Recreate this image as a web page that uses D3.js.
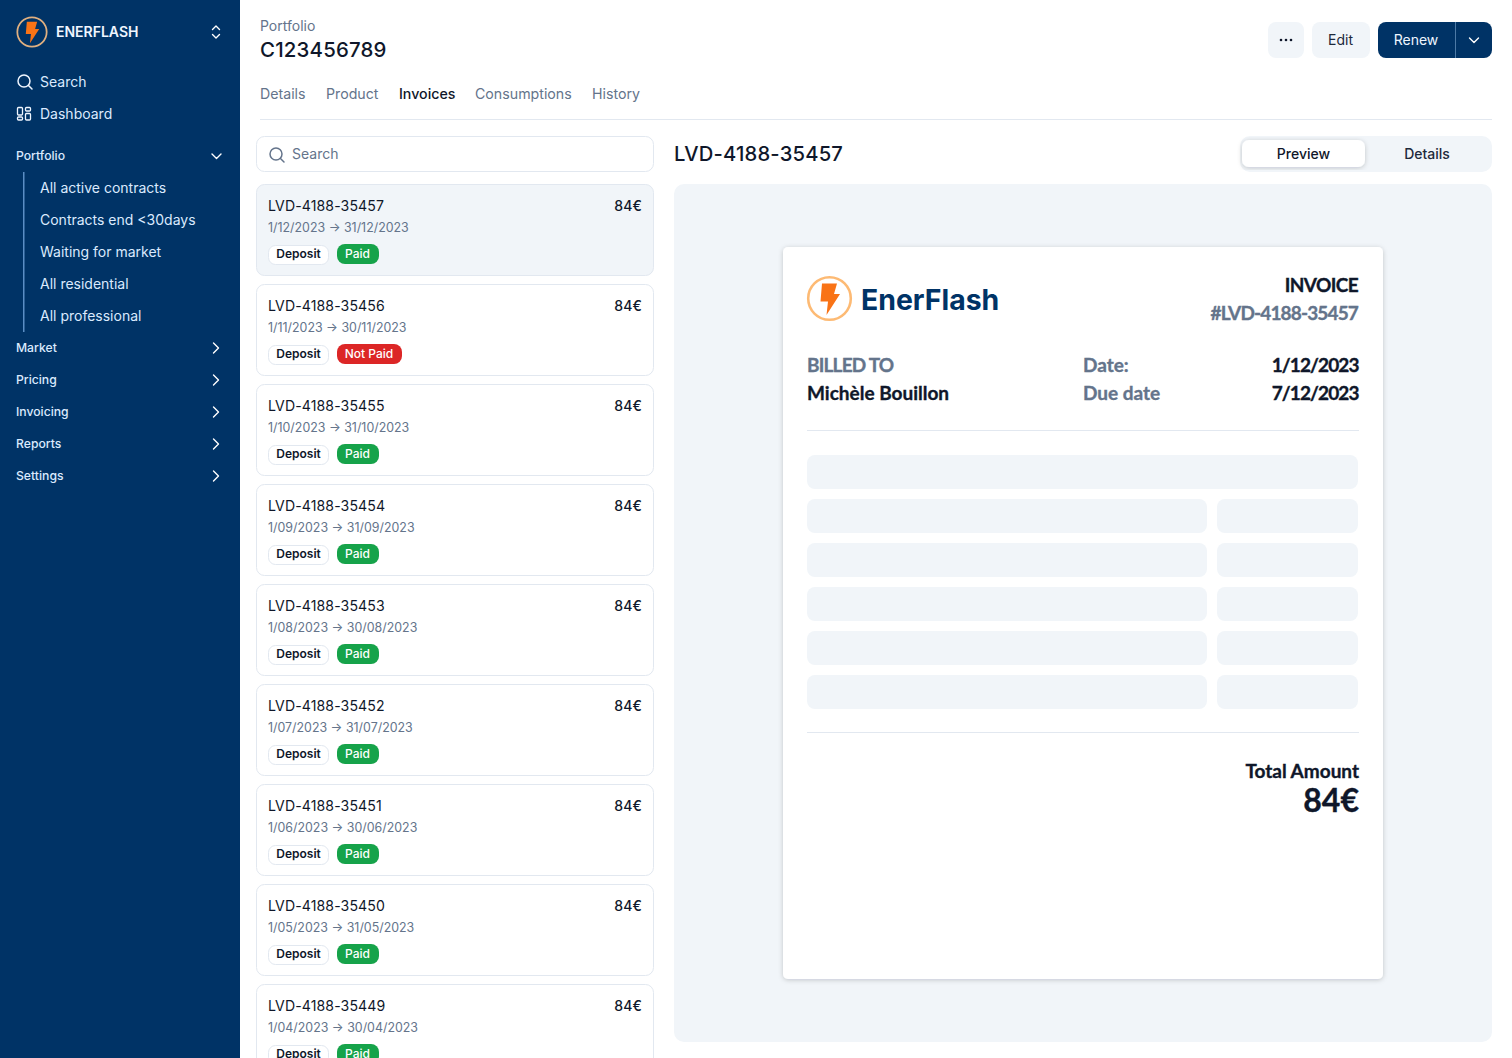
<!DOCTYPE html>
<html>
<head>
<meta charset="utf-8">
<script src="https://cdn.jsdelivr.net/npm/d3@7"></script>
<style>
html, body { margin: 0; padding: 0; background: #fff; overflow: hidden; }
text { font-family: Inter, "Noto Sans", sans-serif; }
text.doc { font-family: Lato, Inter, sans-serif; }
</style>
</head>
<body>
<div id="chart"></div>
<script>
// values
var topNav = ['Search', 'Dashboard'];
var portfolioItems = ['All active contracts', 'Contracts end <30days', 'Waiting for market', 'All residential', 'All professional'];
var closedSections = ['Market', 'Pricing', 'Invoicing', 'Reports', 'Settings'];
var tabs = ['Details', 'Product', 'Invoices', 'Consumptions', 'History'];
var tabX = [260, 326, 399, 475, 592];
var invoiceIds = ['LVD-4188-35457', 'LVD-4188-35456', 'LVD-4188-35455', 'LVD-4188-35454', 'LVD-4188-35453', 'LVD-4188-35452', 'LVD-4188-35451', 'LVD-4188-35450', 'LVD-4188-35449'];
var invoicePeriods = ['1/12/2023 → 31/12/2023', '1/11/2023 → 30/11/2023', '1/10/2023 → 31/10/2023', '1/09/2023 → 31/09/2023', '1/08/2023 → 30/08/2023', '1/07/2023 → 31/07/2023', '1/06/2023 → 30/06/2023', '1/05/2023 → 31/05/2023', '1/04/2023 → 30/04/2023'];
var invoiceAmounts = [84, 84, 84, 84, 84, 84, 84, 84, 84];
var invoiceStatus = ['Paid', 'Not Paid', 'Paid', 'Paid', 'Paid', 'Paid', 'Paid', 'Paid', 'Paid'];
var skeletonRows = [0, 1, 2, 3, 4];

var navy = '#003366', ink = '#0f172a', grey = '#64748b', pale = '#f1f5f9', line = '#e2e8f0', orange = '#f97316';

var svg = d3.select('#chart').append('svg')
    .attr('width', 1512)
    .attr('height', 1058)
    .style('display', 'block');

var defs = svg.append('defs');
var shadow = defs.append('filter').attr('id', 'soft').attr('x', '-10%').attr('y', '-10%').attr('width', '120%').attr('height', '120%');
shadow.append('feDropShadow').attr('dx', 0).attr('dy', 1).attr('stdDeviation', 2.5).attr('flood-color', '#0f172a').attr('flood-opacity', 0.2);

function label(g, x, y, str, size, weight, color, anchor, spacing) {
    return g.append('text')
        .attr('x', x).attr('y', y)
        .attr('font-size', size)
        .attr('font-weight', weight || 400)
        .attr('fill', color || ink)
        .attr('text-anchor', anchor || 'start')
        .attr('letter-spacing', spacing || 0)
        .attr('dominant-baseline', 'central')
        .text(str);
}

// the invoice sheet uses a narrower, rounder face than the app around it
function docLabel(g, x, y, str, size, color, anchor, spacing) {
    return label(g, x, y, str, size, 700, color, anchor, spacing)
        .attr('class', 'doc')
        .attr('stroke', color)
        .attr('stroke-width', 0.35);
}

function box(g, x, y, w, h, r, fill, stroke) {
    return g.append('rect')
        .attr('x', x).attr('y', y)
        .attr('width', w).attr('height', h)
        .attr('rx', r)
        .attr('fill', fill)
        .attr('stroke', stroke || 'none');
}

function stroked(g, d, color, width) {
    return g.append('path').attr('d', d).attr('fill', 'none')
        .attr('stroke', color).attr('stroke-width', width || 1.5)
        .attr('stroke-linecap', 'round').attr('stroke-linejoin', 'round');
}

function searchIcon(g, x, y, color) {
    var i = g.append('g').attr('transform', 'translate(' + x + ',' + y + ')');
    i.append('circle').attr('r', 6).attr('cx', -1).attr('cy', -1).attr('fill', 'none').attr('stroke', color).attr('stroke-width', 1.5);
    stroked(i, 'M3.5,3.5L7,7', color);
}

function logo(g, x, y, r, ring) {
    var k = r / 15;
    var i = g.append('g').attr('transform', 'translate(' + x + ',' + y + ') scale(' + k + ')');
    i.append('circle').attr('r', 14.2).attr('fill', 'none').attr('stroke', ring).attr('stroke-width', 1.7);
    i.append('path').attr('d', 'M-5,-10L5,-10L3,-3L7,-3L-2,11L-1,2L-6,2Z').attr('fill', orange);
}

// sidebar
var side = svg.append('g');
box(side, 0, 0, 240, 1058, 0, navy);
logo(side, 32, 32, 15.5, '#e0b080');
label(side, 56, 31.5, 'ENERFLASH', 14, 600, '#eff6ff');
stroked(side, 'M212.5,29.5L216,26L219.500,29.500M212.5,34.5L216,38L219.500,34.500', '#fff', 1.4);

var navY = d3.scaleLinear().domain([0, 1]).range([81.5, 113.5]);
side.selectAll('.top').data(topNav).enter().append('text')
    .attr('class', 'top')
    .attr('x', 40).attr('y', function(d, i) { return navY(i); })
    .attr('dominant-baseline', 'central')
    .attr('font-size', 14).attr('fill', '#dbeafe')
    .text(function(d) { return d; });
searchIcon(side, 25, 82, '#eff6ff');
[[17.5, 107.5, 5, 7.5], [25.5, 107.5, 5, 3.5], [17.5, 117, 5, 3], [25.5, 113.5, 5, 6.5]].forEach(function(r) {
    box(side, r[0], r[1], r[2], r[3], 1, 'none', '#eff6ff').attr('stroke-width', 1.3);
});

label(side, 16, 155.5, 'Portfolio', 12.2, 500, '#dbeafe');
stroked(side, 'M212,154L216.500,158.500L221,154', '#fff', 1.4);
box(side, 23, 172, 1.5, 160, 0, '#5b8ec4');

var subY = d3.scaleLinear().domain([0, 4]).range([187.5, 315.5]);
side.selectAll('.sub').data(portfolioItems).enter().append('text')
    .attr('class', 'sub')
    .attr('x', 40).attr('y', function(d, i) { return subY(i); })
    .attr('dominant-baseline', 'central')
    .attr('font-size', 14).attr('fill', '#dbeafe')
    .text(function(d) { return d; });

var secY = d3.scaleLinear().domain([0, 4]).range([347.5, 475.5]);
closedSections.forEach(function(s, i) {
    label(side, 16, secY(i), s, 12.2, 500, '#dbeafe');
    stroked(side, 'M213.500,' + (secY(i) - 4.5) + 'L218.500,' + (secY(i) + 0.5) + 'L213.500,' + (secY(i) + 5.5), '#fff', 1.4);
});

// header
var head = svg.append('g');
label(head, 260, 25.5, 'Portfolio', 14, 400, grey);
label(head, 260, 49.5, 'C123456789', 20.4, 500, ink, 'start', 0.2);
tabs.forEach(function(t, i) {
    label(head, tabX[i], 93.5, t, 14.2, t === 'Invoices' ? 500 : 400, t === 'Invoices' ? ink : grey);
});
box(head, 260, 119, 1232, 1, 0, line);

box(head, 1268, 22, 36, 36, 8, pale);
[1281, 1286, 1291].forEach(function(x) {
    head.append('circle').attr('cx', x).attr('cy', 40).attr('r', 1.3).attr('fill', ink);
});
box(head, 1312, 22, 58, 36, 8, pale);
label(head, 1340.500, 39.5, 'Edit', 14, 400, '#1e293b', 'middle');
box(head, 1378, 22, 114, 36, 8, navy);
label(head, 1416, 39.5, 'Renew', 14, 400, '#eff6ff', 'middle');
box(head, 1455, 22, 1, 36, 0, '#4d7aa6');
stroked(head, 'M1469.500,38L1474,42.500L1478.500,38', '#fff', 1.4);

// search box
var list = svg.append('g');
box(list, 256.500, 136.500, 397, 35, 8, '#fff', line);
searchIcon(list, 277, 155, grey);
label(list, 292, 153.5, 'Search', 14, 400, grey);

// invoice cards
var cardY = d3.scaleLinear().domain([0, 8]).range([184, 984]);
var cards = list.selectAll('.card').data(invoiceIds).enter().append('g')
    .attr('class', 'card')
    .attr('transform', function(d, i) { return 'translate(256,' + cardY(i) + ')'; });

cards.each(function(id, i) {
    var c = d3.select(this);
    box(c, 0.5, 0.5, 397, 91, 8, i === 0 ? pale : '#fff', line);
    label(c, 12, 21.5, id, 14.1, 400, ink, 'start', 0.1);
    label(c, 386, 21.5, invoiceAmounts[i] + '€', 14, 500, ink, 'end', 0.1);
    label(c, 12, 43.5, invoicePeriods[i], 12.4, 400, grey);
    box(c, 12.500, 61.500, 60, 19, 7, '#fff', line);
    label(c, 42.500, 69.5, 'Deposit', 12, 600, ink, 'middle');
    var st = invoiceStatus[i];
    box(c, 81, 60, st === 'Paid' ? 42 : 65, 20, 8, st === 'Paid' ? '#16a34a' : '#dc2626');
    label(c, st === 'Paid' ? 101.5 : 113, 69.5, st, 12, 500, '#fff', 'middle');
});

// preview pane
var pane = svg.append('g');
label(pane, 674, 153.5, 'LVD-4188-35457', 20.2, 500, ink, 'start', 0.2);
box(pane, 1240, 136, 252, 36, 10, pale);
box(pane, 1242, 140, 123, 27, 7, '#fff').attr('filter', 'url(#soft)');
label(pane, 1303.500, 153.5, 'Preview', 14, 500, ink, 'middle');
label(pane, 1427, 153.5, 'Details', 14, 500, '#1e293b', 'middle');
box(pane, 674, 184, 818, 858, 10, pale);

box(pane, 783, 247, 600, 732, 5, '#fff').attr('filter', 'url(#soft)');
logo(pane, 829.500, 298.500, 22.5, '#fdba74');
label(pane, 861, 299.5, 'EnerFlash', 28.4, 700, navy, 'start', 0);
docLabel(pane, 1358, 284.5, 'INVOICE', 19, ink, 'end', -0.6);
docLabel(pane, 1358, 312.5, '#LVD-4188-35457', 19, grey, 'end', -0.85);
docLabel(pane, 807, 364.5, 'BILLED TO', 19, grey, 'start', -0.8);
docLabel(pane, 807, 392.5, 'Michèle Bouillon', 19, ink, 'start', 0);
docLabel(pane, 1083, 364.5, 'Date:', 19, grey);
docLabel(pane, 1083, 392.5, 'Due date', 19, grey);
docLabel(pane, 1358.5, 364.5, '1/12/2023', 19, ink, 'end', -0.9);
docLabel(pane, 1358.5, 392.5, '7/12/2023', 19, ink, 'end', -0.9);
box(pane, 807, 430, 552, 1, 0, line);

box(pane, 807, 455, 551, 34, 8, pale);
var rowY = d3.scaleLinear().domain([0, 4]).range([499, 675]);
skeletonRows.forEach(function(r) {
    box(pane, 807, rowY(r), 400, 34, 8, pale);
    box(pane, 1217, rowY(r), 141, 34, 8, pale);
});
box(pane, 807, 732, 552, 1, 0, line);
docLabel(pane, 1359, 770.5, 'Total Amount', 19, ink, 'end', 0);
docLabel(pane, 1359, 799.5, invoiceAmounts[0] + '€', 32, ink, 'end');
</script>
</body>
</html>
